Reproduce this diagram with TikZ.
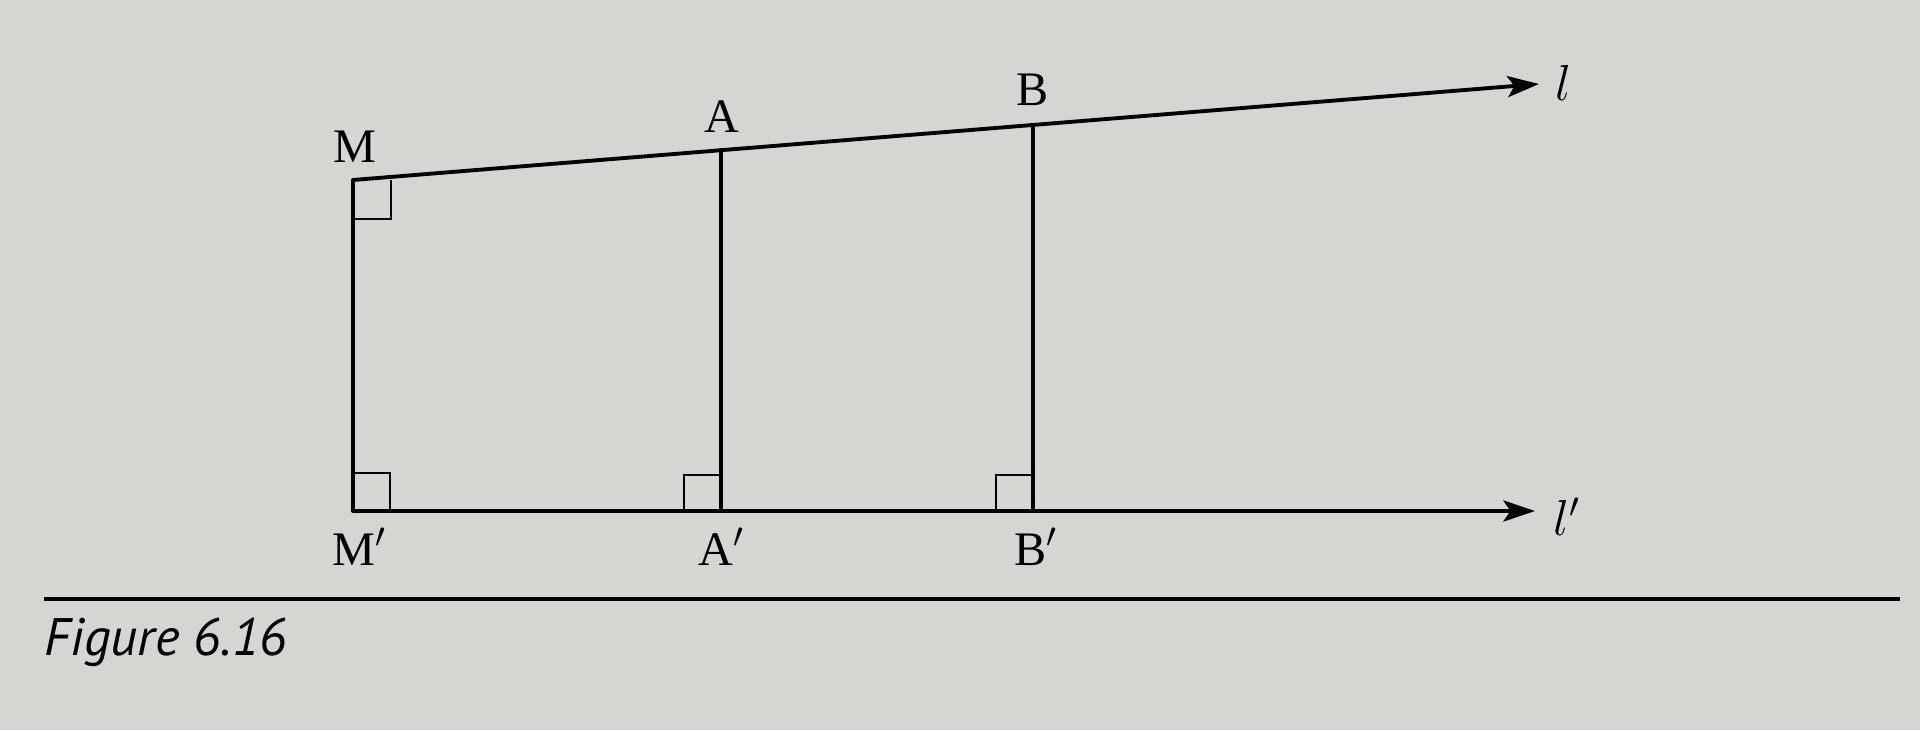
\documentclass[tikz,border=0pt]{standalone}
\usepackage{fontspec}
\setmainfont{Liberation Serif}
\newfontfamily\capfont{PT Sans}
\usepackage{amsmath}
\usepackage{tikz}
\usetikzlibrary{arrows.meta}

\definecolor{paper}{RGB}{214,213,209}

\begin{document}
\begin{tikzpicture}[
    line/.style={line width=1.1pt, line cap=round},
    ray/.style={line width=1.1pt, -{Stealth[length=9pt,width=6pt,inset=2pt]}},
    rbox/.style={line width=0.8pt},
    lbl/.style={font=\fontsize{13.7}{16}\selectfont, inner sep=0pt}
  ]
    \fill[paper] (0,0) rectangle (19.2,7.3);
    \useasboundingbox (0,0) rectangle (19.2,7.3);

    \coordinate (M) at (3.53,5.50);
    \coordinate (Mp) at (3.53,2.19);
    \coordinate (A) at (7.21,5.80);
    \coordinate (Ap) at (7.21,2.19);
    \coordinate (B) at (10.33,6.05);
    \coordinate (Bp) at (10.33,2.19);
    \coordinate (lend) at (15.39,6.46);
    \coordinate (lpend) at (15.35,2.19);

    \draw[ray] (M) -- (lend);
    \draw[ray] (Mp) -- (lpend);
    \draw[line] (M) -- (Mp);
    \draw[line] (A) -- (Ap);
    \draw[line] (B) -- (Bp);

    % right angle marks
    \draw[rbox] ([yshift=-0.39cm]M) -- ++(0.38,0) -- ++(0,0.39);
    \draw[rbox] ([yshift=0.38cm]Mp) -- ++(0.37,0) -- ++(0,-0.38);
    \foreach \p in {Ap,Bp}
    \draw[rbox] ([yshift=0.36cm]\p) -- ++(-0.37,0) -- ++(0,-0.36);

    \node[lbl] (labM) at (3.55,5.83) {M};
    \node[lbl] (labA) at (7.22,6.13) {A};
    \node[lbl] (labB) at (10.33,6.40) {B};
    \node[lbl] (labMp) at (3.60,1.83) {M$'$};
    \node[lbl] (labAp) at (7.22,1.83) {A$'$};
    \node[lbl] (labBp) at (10.36,1.83) {B$'$};
    \node[lbl] (labl) at (15.63,6.47) {$l$};
    \node[lbl] (lablp) at (15.67,2.13) {$l'$};

    \draw[line width=1.4pt] (0.44,1.31) -- (19.0,1.31);
    \node[anchor=base west, inner sep=0pt, font=\capfont\itshape\fontsize{15}{18}\selectfont] (cap) at (0.44,0.75) {Figure 6.16};
\end{tikzpicture}
\end{document}
